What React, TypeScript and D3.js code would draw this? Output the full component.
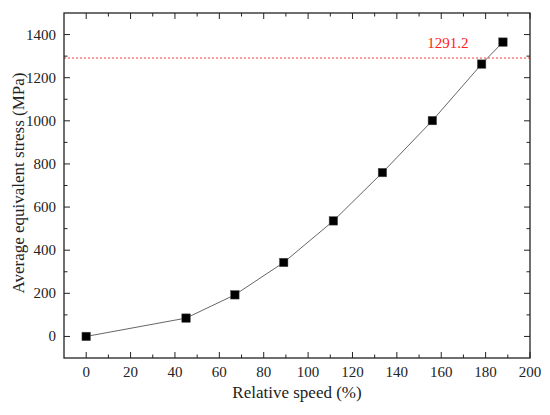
import * as d3 from "d3";

const speeds = [0, 45, 67, 89, 111.4, 133.5, 156, 178.2, 187.8];
const stresses = [0, 85, 193, 343, 536, 760, 1001, 1263, 1365];
const limitValue = 1291.2;
const xTicks = [0, 20, 40, 60, 80, 100, 120, 140, 160, 180, 200];
const yTicks = [0, 200, 400, 600, 800, 1000, 1200, 1400];

const WIDTH = 550;
const HEIGHT = 415;
const MARGIN = { top: 13, right: 20, bottom: 57, left: 64 };

const App = () => {
  const boundsW = WIDTH - MARGIN.left - MARGIN.right;
  const boundsH = HEIGHT - MARGIN.top - MARGIN.bottom;

  const xScale = d3.scaleLinear().domain([-10, 200]).range([0, boundsW]);
  const yScale = d3.scaleLinear().domain([-100, 1500]).range([boundsH, 0]);

  const xMinor = d3.range(-10, 201, 10).filter((v) => v > -10 && v < 200 && v % 20 !== 0);
  const yMinor = d3.range(-100, 1501, 100).filter((v) => v > -100 && v < 1500 && v % 200 !== 0);

  const line = d3
    .line<number>()
    .x((_, i) => xScale(speeds[i]))
    .y((d) => yScale(d));

  const serif = { fontFamily: "'Liberation Serif'" };
  const ink = "#222";
  const major = 6;
  const minor = 3.5;

  return (
    <svg width={WIDTH} height={HEIGHT} style={{ position: "absolute", left: 0, top: 0 }}>
      <rect width={WIDTH} height={HEIGHT} fill="#fff" />
      <g transform={`translate(${MARGIN.left},${MARGIN.top})`}>
        {/* limit line */}
        <line
          x1={0}
          x2={boundsW}
          y1={yScale(limitValue)}
          y2={yScale(limitValue)}
          stroke="#ff3b3b"
          strokeWidth={1}
          strokeDasharray="2,2"
        />
        <text
          x={xScale(163)}
          y={yScale(limitValue) - 10}
          textAnchor="middle"
          fontSize={15}
          fill="#ff2020"
          style={serif}
        >
          {limitValue.toFixed(1)}
        </text>

        {/* x ticks bottom & top */}
        {xTicks.map((t) => (
          <g key={"x" + t}>
            <line x1={xScale(t)} x2={xScale(t)} y1={boundsH} y2={boundsH - major} stroke={ink} />
            <line x1={xScale(t)} x2={xScale(t)} y1={0} y2={major} stroke={ink} />
            <text
              x={xScale(t)}
              y={boundsH + 19}
              textAnchor="middle"
              fontSize={15}
              fill={ink}
              style={serif}
            >
              {t}
            </text>
          </g>
        ))}
        {xMinor.map((t) => (
          <g key={"xm" + t}>
            <line x1={xScale(t)} x2={xScale(t)} y1={boundsH} y2={boundsH - minor} stroke={ink} />
            <line x1={xScale(t)} x2={xScale(t)} y1={0} y2={minor} stroke={ink} />
          </g>
        ))}

        {/* y ticks left & right */}
        {yTicks.map((t) => (
          <g key={"y" + t}>
            <line x1={0} x2={major} y1={yScale(t)} y2={yScale(t)} stroke={ink} />
            <line x1={boundsW} x2={boundsW - major} y1={yScale(t)} y2={yScale(t)} stroke={ink} />
            <text
              x={-8}
              y={yScale(t) + 5}
              textAnchor="end"
              fontSize={15}
              fill={ink}
              style={serif}
            >
              {t}
            </text>
          </g>
        ))}
        {yMinor.map((t) => (
          <g key={"ym" + t}>
            <line x1={0} x2={minor} y1={yScale(t)} y2={yScale(t)} stroke={ink} />
            <line x1={boundsW} x2={boundsW - minor} y1={yScale(t)} y2={yScale(t)} stroke={ink} />
          </g>
        ))}

        {/* frame */}
        <rect x={0} y={0} width={boundsW} height={boundsH} fill="none" stroke={ink} strokeWidth={1.3} />

        {/* series */}
        <path d={line(stresses) || ""} fill="none" stroke="#666" strokeWidth={1} />
        {stresses.map((v, i) => (
          <rect
            key={i}
            x={xScale(speeds[i]) - 4.25}
            y={yScale(v) - 4.25}
            width={8.5}
            height={8.5}
            fill="#000"
            stroke="#555"
            strokeWidth={0.5}
          />
        ))}

        {/* axis titles */}
        <text
          x={boundsW / 2}
          y={boundsH + 40}
          textAnchor="middle"
          fontSize={17}
          fill={ink}
          style={serif}
        >
          Relative speed (%)
        </text>
        <text
          transform={`translate(${-40},${170}) rotate(-90)`}
          textAnchor="middle"
          fontSize={17}
          fill={ink}
          style={serif}
        >
          Average equivalent stress (MPa)
        </text>
      </g>
    </svg>
  );
};

export default App;
